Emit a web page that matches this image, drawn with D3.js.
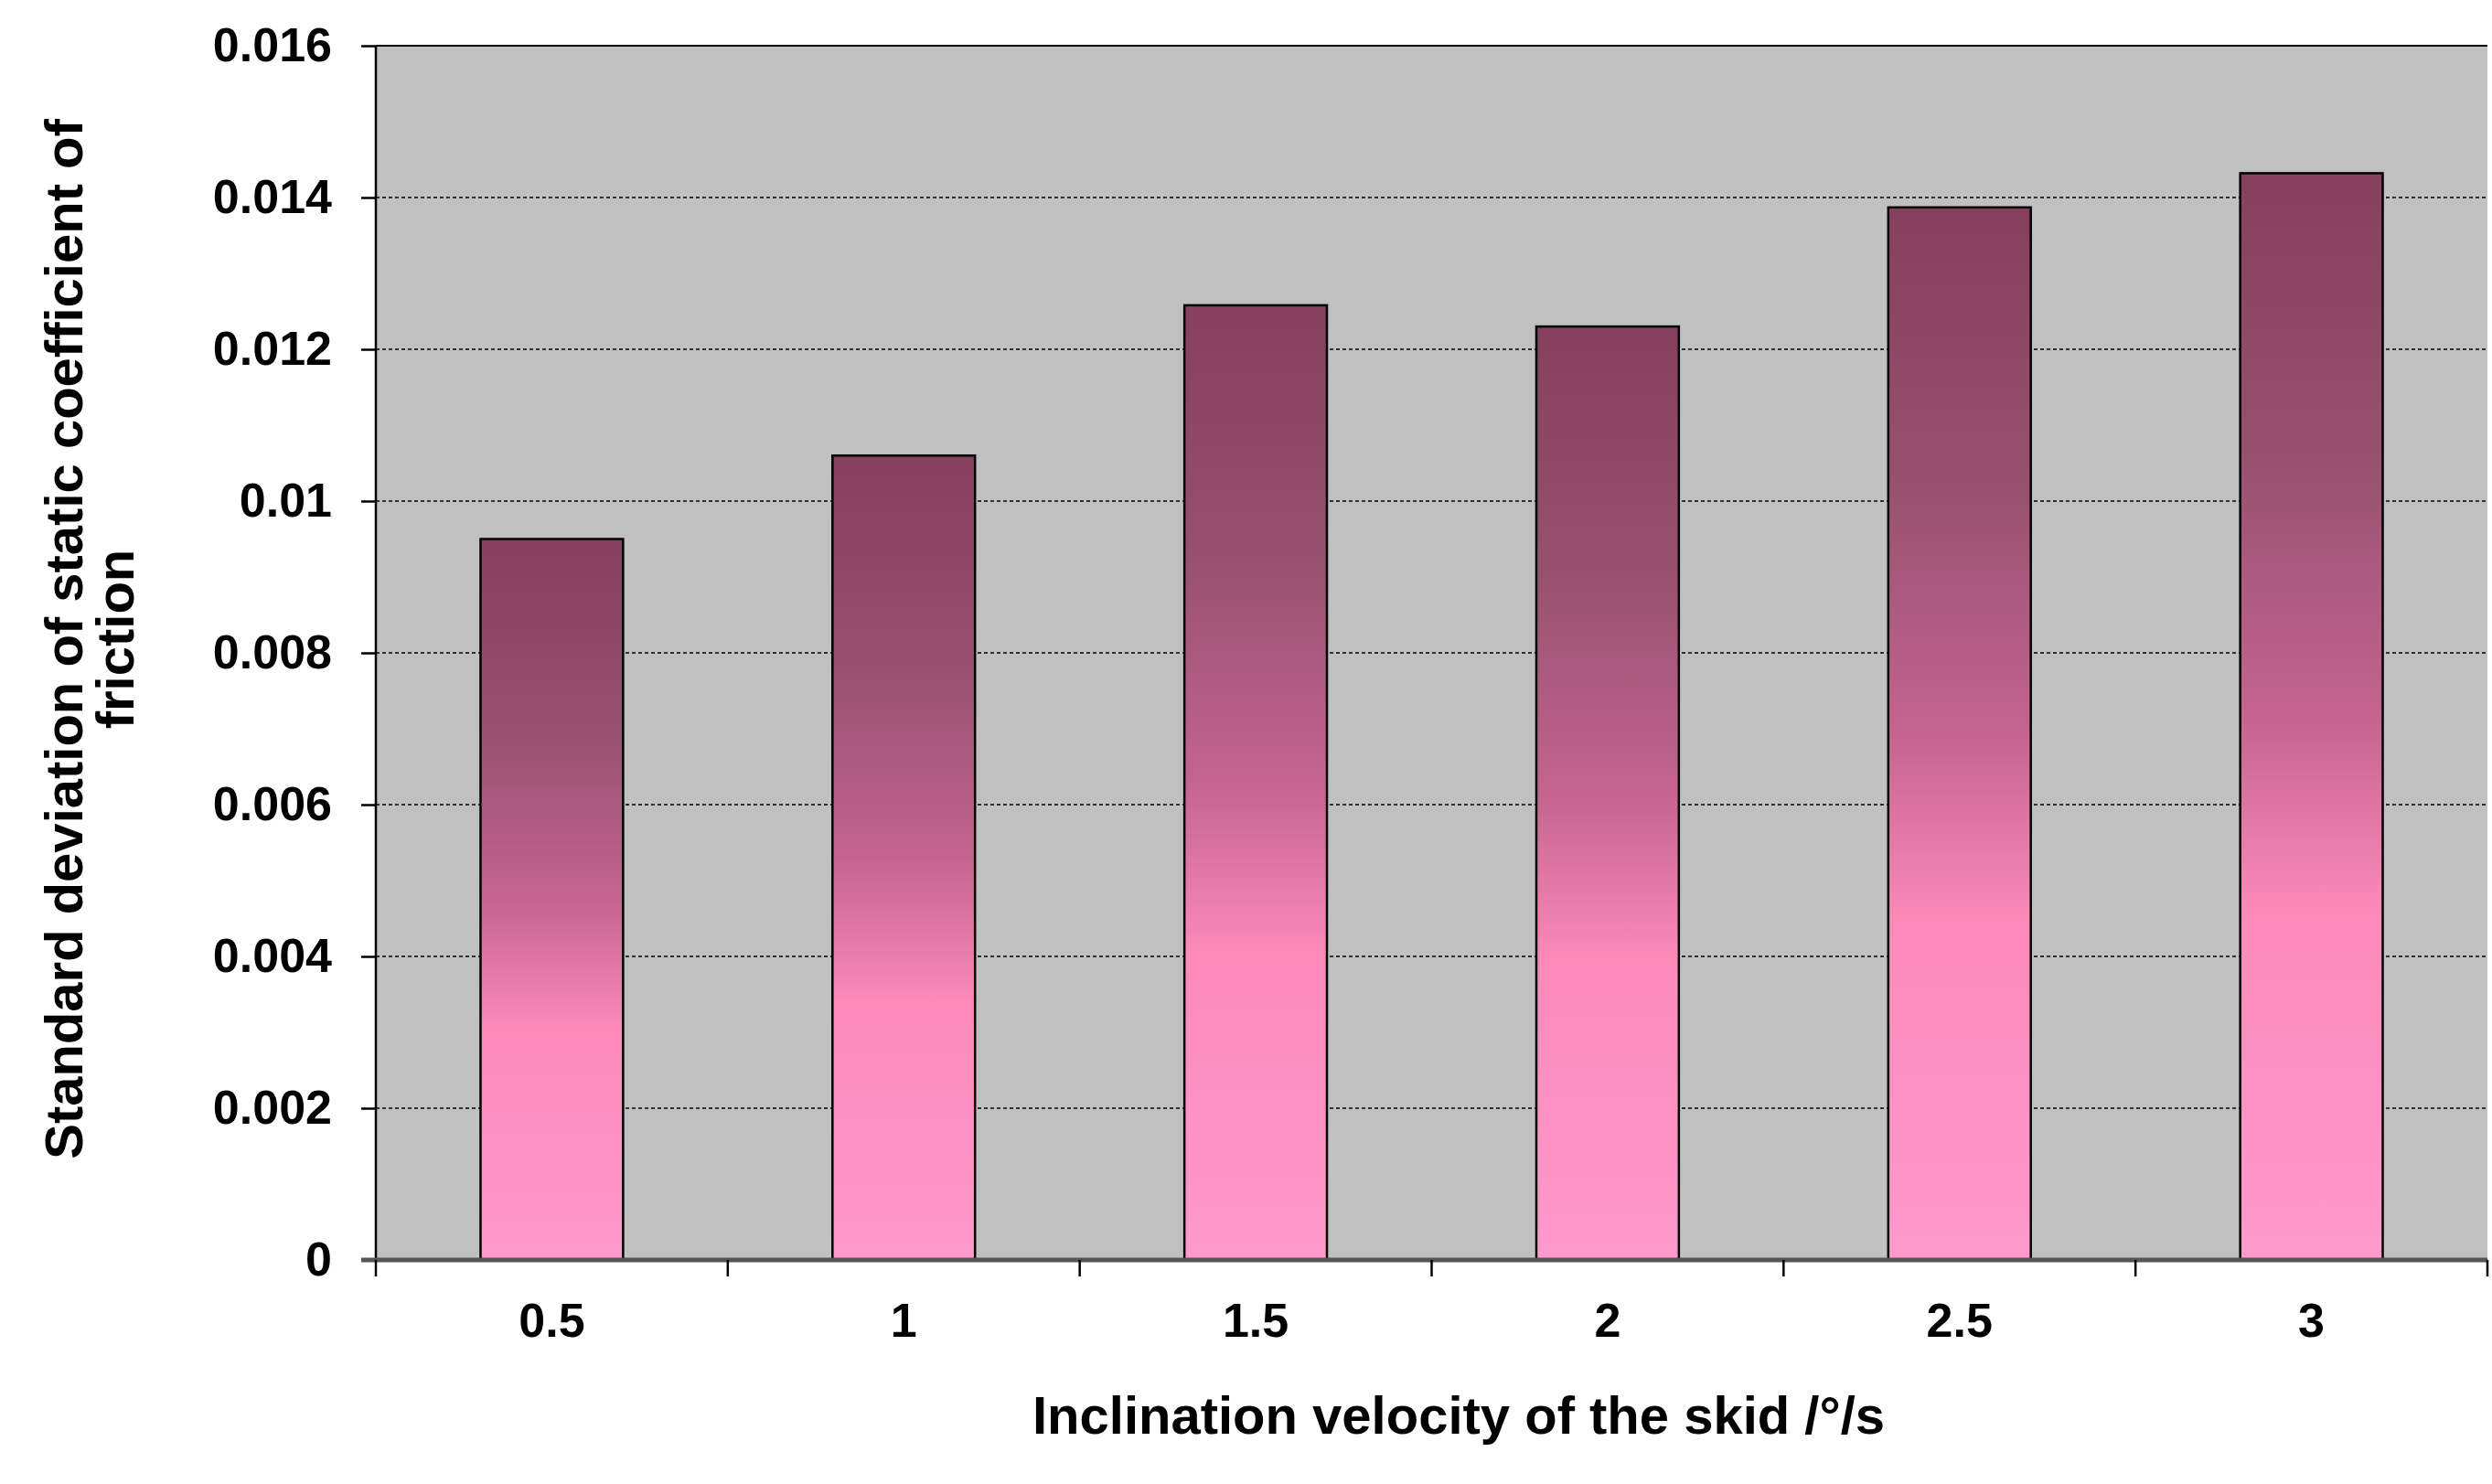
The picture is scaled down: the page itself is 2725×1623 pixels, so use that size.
<!DOCTYPE html><html><head><meta charset="utf-8">
<script src="https://cdn.jsdelivr.net/npm/d3@7"></script>
<style>body{margin:0;background:#fff}</style></head><body>
<script>
const categories=["0.5","1","1.5","2","2.5","3"];
const values=[0.0095,0.0106,0.01258,0.0123,0.01387,0.01432];
const yTicks=[0,0.002,0.004,0.006,0.008,0.01,0.012,0.014,0.016];
const W=2725,H=1623,L=411,R=2720,T=50,B=1378;
const svg=d3.select("body").append("svg").attr("width",W).attr("height",H).style("font-family","'Liberation Sans',Arial,sans-serif").style("font-weight","bold");
const x=d3.scaleBand().domain(categories).range([L,R]).paddingInner(0.595).paddingOuter(0.2975);
const y=d3.scaleLinear().domain([0,0.016]).range([B,T]);
const g=svg.append("defs").append("linearGradient").attr("id","gr").attr("x1",0).attr("y1",0).attr("x2",0).attr("y2",1);
[[0,"#84405e"],[0.25,"#94506e"],[0.5,"#c4648f"],[0.68,"#fc8ab9"],[1,"#ff99cc"]].forEach(s=>g.append("stop").attr("offset",s[0]).attr("stop-color",s[1]));
svg.append("rect").attr("x",L).attr("y",T).attr("width",R-L).attr("height",B-T).attr("fill","#c0c0c0");
yTicks.slice(1,-1).forEach(t=>svg.append("line").attr("x1",L).attr("x2",R).attr("y1",y(t)).attr("y2",y(t)).attr("stroke","#000").attr("stroke-width",1.5).attr("stroke-dasharray","4,3"));
svg.append("line").attr("x1",L).attr("x2",R).attr("y1",T).attr("y2",T).attr("stroke","#000").attr("stroke-width",2);
svg.selectAll(".bar").data(values).enter().append("rect").attr("x",(d,i)=>x(categories[i])).attr("width",x.bandwidth()).attr("y",d=>y(d)).attr("height",d=>B-y(d)).attr("fill","url(#gr)").attr("stroke","#000").attr("stroke-width",2.5);
const ya=svg.append("g").attr("transform",`translate(${L},0)`).call(d3.axisLeft(y).tickValues(yTicks).tickSize(16).tickPadding(32).tickFormat(d=>d===0?"0":String(+d.toFixed(3))));
ya.selectAll("text").attr("font-size",52).attr("fill","#000");
ya.selectAll("line,path").attr("stroke","#000").attr("stroke-width",2.5);
ya.select("path").attr("d",`M0,${T}V${B}`);
const xa=svg.append("g").attr("transform",`translate(0,${B})`);
xa.append("line").attr("x1",L-16).attr("x2",R).attr("stroke","#555").attr("stroke-width",5);
const step=x.step();
d3.range(categories.length+1).forEach(i=>xa.append("line").attr("x1",L+i*step).attr("x2",L+i*step).attr("y1",0).attr("y2",18).attr("stroke","#000").attr("stroke-width",2.5));
categories.forEach(c=>xa.append("text").attr("x",x(c)+x.bandwidth()/2).attr("y",84).attr("text-anchor","middle").attr("font-size",52).text(c));
svg.append("text").attr("x",1595).attr("y",1568).attr("text-anchor","middle").attr("font-size",58).text("Inclination  velocity of the skid /°/s");
const yt=svg.append("text").attr("transform","translate(0,699) rotate(-90)").attr("text-anchor","middle").attr("font-size",58);
yt.append("tspan").attr("x",0).attr("y",90).text("Standard deviation of static coefficient of");
yt.append("tspan").attr("x",0).attr("y",146).text("friction");
</script></body></html>
